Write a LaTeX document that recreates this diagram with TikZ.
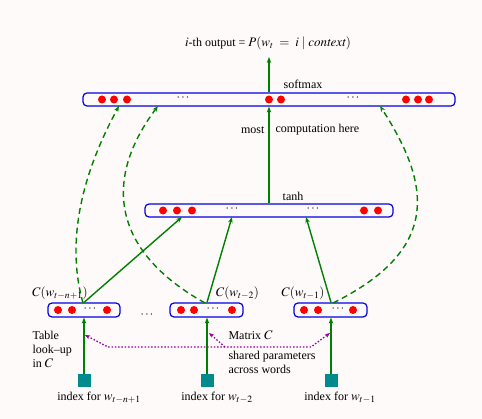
\documentclass[tikz,border=0pt]{standalone}
\usepackage{mathptmx}
\usepackage{fontspec}
\setmainfont{Liberation Serif}
\usetikzlibrary{arrows.meta}
\definecolor{snowbg}{RGB}{255,250,250}
\definecolor{barblue}{RGB}{0,0,230}
\definecolor{netgreen}{RGB}{0,128,0}
\definecolor{idxteal}{RGB}{0,140,140}
\definecolor{sharepurple}{RGB}{150,0,160}
\newcommand{\bigmath}[1]{{\fontsize{13}{15}\selectfont$#1$}}

\begin{document}
\begin{tikzpicture}[x=1pt, y=-1pt, font=\fontsize{12}{14}\selectfont]
\fill[snowbg] (0,0) rectangle (482,419);
\useasboundingbox (0,0) rectangle (482,419);

\coordinate (Out) at (269,57);
\coordinate (T_1) at (182,217);
\coordinate (T_2) at (232,217);
\coordinate (T_3) at (306,217);
\coordinate (S_1) at (119,106);
\coordinate (S_2) at (158,106);
\coordinate (S_3) at (380,106);
\coordinate (P_1) at (85,335);
\coordinate (P_2) at (209,333);
\coordinate (P_3) at (330,333);
\coordinate (Q_1) at (108,347);
\coordinate (Q_2) at (225,347);
\coordinate (Q_3) at (311,347);


\tikzset{BarStyle/.style = {draw=barblue, line width=1.2pt, rounded corners=4pt,
 minimum height=13pt, inner sep=0pt} }

\node[BarStyle, minimum width=372pt] (Softmax) at (269,99.5) {};
\node[BarStyle, minimum width=248pt] (Tanh) at (269,210.5) {};
\node[BarStyle, minimum width=72pt, minimum height=14pt] (C_1) at (84,310) {};
\node[BarStyle, minimum width=73pt, minimum height=14pt] (C_2) at (206.5,310) {};
\node[BarStyle, minimum width=73pt, minimum height=14pt] (C_3) at (330.5,310) {};


\tikzset{DotStyle/.style = {circle, fill=red, minimum size=8pt, inner sep=0pt} }

\node[DotStyle] at (102,99.5) {};
\node[DotStyle] at (114,99.5) {};
\node[DotStyle] at (127,99.5) {};
\node at (183,98) {$\cdots$};
\node[DotStyle] at (269,99.5) {};
\node[DotStyle] at (281,99.5) {};
\node at (353,98) {$\cdots$};
\node[DotStyle] at (406,99.5) {};
\node[DotStyle] at (418,99.5) {};
\node[DotStyle] at (429,99.5) {};

\node[DotStyle] at (163,210.5) {};
\node[DotStyle] at (177,210.5) {};
\node[DotStyle] at (192,210.5) {};
\node at (232,209) {$\cdots$};
\node at (313,209) {$\cdots$};
\node[DotStyle] at (364,210.5) {};
\node[DotStyle] at (378,210.5) {};

\node[DotStyle] at (58,310) {};
\node[DotStyle] at (72,310) {};
\node at (90,309) {$\cdots$};
\node[DotStyle] at (107,310) {};
\node[DotStyle] at (181,310) {};
\node[DotStyle] at (194,310) {};
\node at (213,309) {$\cdots$};
\node[DotStyle] at (232,310) {};
\node[DotStyle] at (304,310) {};
\node[DotStyle] at (318,310) {};
\node at (338,309) {$\cdots$};
\node[DotStyle] at (353,310) {};
\node (Gap) at (147,315) {$\cdots$};


\tikzset{IndexStyle/.style = {fill=idxteal, minimum size=13pt, inner sep=0pt} }

\node[IndexStyle] (I_1) at (84,380.5) {};
\node[IndexStyle] (I_2) at (207,380.5) {};
\node[IndexStyle] (I_3) at (331,380.5) {};


\tikzset{EdgeStyle/.style = {draw=netgreen, line width=1.4pt, -{Stealth[length=6pt, width=4.5pt]}} }
\tikzset{DashStyle/.style = {EdgeStyle, dash pattern=on 6pt off 4pt} }

\draw[EdgeStyle] (Softmax.north) -- (Out);
\draw[EdgeStyle] (Tanh.north) -- (Softmax.south);
\draw[EdgeStyle] (C_1.north) -- (T_1);
\draw[EdgeStyle] (C_2.north -| I_2) -- (T_2);
\draw[EdgeStyle] (C_3.north -| I_3) -- (T_3);
\draw[EdgeStyle] (I_1.north) -- (C_1.south);
\draw[EdgeStyle] (I_2.north) -- (C_2.south -| I_2);
\draw[EdgeStyle] (I_3.north) -- (C_3.south -| I_3);

\draw[DashStyle] (83,303) .. controls (68,250) and (76,185) .. (S_1);
\draw[DashStyle] (205,303) .. controls (110,250) and (104,178) .. (S_2);
\draw[DashStyle] (333,303) .. controls (440,250) and (432,186) .. (S_3);


\tikzset{ShareStyle/.style = {draw=sharepurple, line width=1.3pt, dash pattern=on 1.5pt off 1.8pt,
 -{Stealth[length=5pt, width=4pt]}} }

\draw[ShareStyle, {Stealth[length=5pt, width=4pt]}-{Stealth[length=5pt, width=4pt]}] (P_1) -- (Q_1) -- (Q_3) -- (P_3);
\draw[ShareStyle] (Q_2) -- (P_2);


\node (Title) at (268,43) {\bigmath{i}-th output = \bigmath{P(w_t\;=\;i\;|\;\mathit{context})}};
\node (SoftmaxL) at (303,84) {softmax};
\node[anchor=east] (MostL) at (268,130) {most};
\node[anchor=west] (CompL) at (272,130) {computation here};
\node (TanhL) at (293,196) {tanh};
\node (CL_1) at (60,293) {\bigmath{C(w_{t-n+1})}};
\node (CL_2) at (237.5,293) {\bigmath{C(w_{t-2})}};
\node (CL_3) at (303,293) {\bigmath{C(w_{t-1})}};
\node[align=left, anchor=west] (LookupL) at (29,349) {Table\\ look--up\\ in \bigmath{C}};
\node[anchor=west] (MatrixL) at (225,335) {Matrix \bigmath{C}};
\node[align=left, anchor=west] (SharedL) at (225,362.5) {shared parameters\\across words};
\node (IdxL_1) at (99,398) {index for \bigmath{w_{t-n+1}}};
\node (IdxL_2) at (217,398) {index for \bigmath{w_{t-2}}};
\node (IdxL_3) at (340,398) {index for \bigmath{w_{t-1}}};

\end{tikzpicture}
\end{document}
